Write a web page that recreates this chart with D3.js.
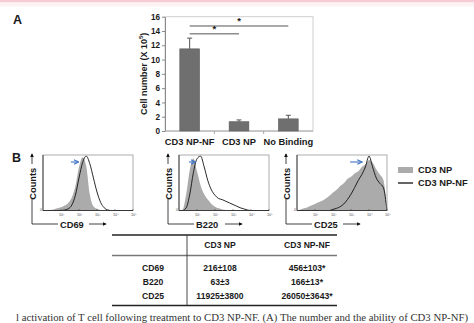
<!DOCTYPE html>
<html>
<head>
<meta charset="utf-8">
<script src="https://cdn.jsdelivr.net/npm/d3@7"></script>
<style>
  body { margin: 0; background: #fff; }
  svg { display: block; font-family: "Liberation Sans", Arial, sans-serif; }
</style>
</head>
<body>
<div id="fig"></div>
<script>
// panel A - bar chart
const categories = ["CD3 NP-NF", "CD3 NP", "No Binding"]
const cellNumber = [11.5, 1.3, 1.7]
const cellError  = [1.5, 0.25, 0.5]
const barTicks   = [0, 2, 4, 6, 8, 10, 12, 14, 16]
// significance brackets: from category, to category, height (y units)
const sigFrom  = ["CD3 NP-NF", "CD3 NP-NF"]
const sigTo    = ["No Binding", "CD3 NP"]
const sigLevel = [14.7, 13.6]

// panel B - histograms (x in log decades)
const histX    = [0, 0.2, 0.4, 0.6, 0.8, 1.0, 1.2, 1.4, 1.6, 1.8, 2.0, 2.2, 2.4, 2.6, 2.8, 3.0, 3.2, 3.4, 3.6, 3.8, 4.0, 4.2, 4.4, 4.6, 4.8, 5.0]
const cd69NP   = [0, 0, 1, 2, 4, 6, 9, 14, 24, 45, 80, 98, 82, 30, 8, 3, 1, 0, 0, 0, 0, 0, 0, 0, 0, 0]
const cd69NF   = [0, 0, 0, 0, 0, 0, 1, 3, 10, 28, 60, 88, 100, 86, 60, 34, 15, 5, 1, 0, 0, 0, 0, 0, 0, 0]
const b220NP   = [0, 2, 30, 75, 96, 72, 46, 30, 20, 12, 7, 4, 2, 1, 0, 0, 0, 0, 0, 0, 0, 0, 0, 0, 0, 0]
const b220NF   = [0, 0, 5, 30, 70, 95, 100, 80, 55, 38, 28, 22, 20, 17, 14, 11, 8, 5, 3, 1, 0, 0, 0, 0, 0, 0]
const cd25NP   = [0, 2, 4, 6, 9, 12, 15, 18, 22, 27, 33, 38, 45, 50, 58, 62, 68, 72, 80, 85, 93, 88, 76, 66, 56, 0]
const cd25NF   = [0, 0, 0, 0, 0, 0, 0, 0, 0, 0, 2, 4, 7, 12, 20, 30, 42, 55, 66, 80, 100, 80, 60, 50, 42, 0]
const histLabels = ["CD69", "B220", "CD25"]
const histTicks  = ["10¹", "10²", "10³", "10⁴", "10⁵"]
const arrowPeak  = [[1.55, 1.95], [0.55, 0.9], [2.95, 3.6]]   // blue shift arrows (x from, to)
const legendKeys = ["CD3 NP", "CD3 NP-NF"]

// table
const tableRows = ["CD69", "B220", "CD25"]
const tableCols = ["CD3 NP", "CD3 NP-NF"]
const valuesNP  = ["216±108", "63±3", "11925±3800"]
const valuesNF  = ["456±103*", "166±13*", "26050±3643*"]

const width = 474, height = 323

const svg = d3.select("#fig")
    .append("svg")
    .attr("width", width)
    .attr("height", height)

svg.append("defs").html(`
  <marker id="ah" viewBox="0 0 6 6" refX="5" refY="3" markerWidth="5" markerHeight="5" orient="auto">
    <path d="M0,0 L6,3 L0,6 z" fill="#111"/></marker>
  <marker id="ahb" viewBox="0 0 6 6" refX="5" refY="3" markerWidth="5" markerHeight="5" orient="auto">
    <path d="M0,0.5 L5.5,3 L0,5.5" fill="none" stroke="#3f74c4" stroke-width="1.2"/></marker>`)

// pink strip on top
svg.append("rect").attr("x", 0).attr("y", 0).attr("width", width).attr("height", 2.5).attr("fill", "#f6cbd3")
svg.append("rect").attr("x", 0).attr("y", 2.5).attr("width", width).attr("height", 4).attr("fill", "#fdf3f5")

const bold = (sel, size) => sel.attr("font-size", size).attr("font-weight", "bold").attr("fill", "#1a1a1a")
    .attr("font-family", "Liberation Sans, Arial, sans-serif")

// ---------------- panel A ----------------
svg.append("text").attr("x", 13).attr("y", 24).call(bold, 12.5).text("A")

const ax = { left: 165, right: 313, top: 16.7, bottom: 131 }

const x = d3.scaleBand()
    .domain(categories)
    .range([ax.left, ax.right])
    .paddingInner(0.6)
    .paddingOuter(0.3)

const y = d3.scaleLinear()
    .domain([0, 16])
    .range([ax.bottom, ax.top])

// frame
svg.append("rect")
    .attr("x", ax.left).attr("y", ax.top)
    .attr("width", ax.right - ax.left).attr("height", ax.bottom - ax.top)
    .attr("fill", "none").attr("stroke", "#cfcfcf").attr("stroke-width", 1)

const yAxis = svg.append("g")
    .attr("transform", `translate(${ax.left},0)`)
    .call(d3.axisLeft(y).tickValues(barTicks).tickSize(3).tickSizeOuter(0))
yAxis.select(".domain").attr("stroke", "#8a8a8a")
yAxis.selectAll(".tick line").attr("stroke", "#8a8a8a")
yAxis.selectAll("text").call(bold, 8.2).attr("x", -5)

// bottom axis with ticks between categories
svg.append("line")
    .attr("x1", ax.left).attr("x2", ax.right).attr("y1", ax.bottom).attr("y2", ax.bottom)
    .attr("stroke", "#a8a8a8")
svg.append("g")
    .selectAll("line")
    .data(categories.slice(1))
    .join("line")
    .attr("x1", d => x(d) - x.step() * x.paddingInner() / 2)
    .attr("x2", d => x(d) - x.step() * x.paddingInner() / 2)
    .attr("y1", ax.bottom).attr("y2", ax.bottom + 3)
    .attr("stroke", "#a8a8a8")

svg.append("g")
    .selectAll("text")
    .data(categories)
    .join("text")
    .attr("x", d => x(d) + x.bandwidth() / 2)
    .attr("y", 145)
    .attr("text-anchor", "middle")
    .call(bold, 9.3)
    .text(d => d)

// y title
svg.append("text")
    .attr("transform", `translate(146.5,${(ax.top + ax.bottom) / 2}) rotate(-90)`)
    .attr("text-anchor", "middle")
    .call(bold, 9)
    .html('Cell number (X 10<tspan dy="-3.5" font-size="6">5</tspan><tspan dy="3.5">)</tspan>')

// bars
svg.append("g")
    .selectAll("rect")
    .data(categories)
    .join("rect")
    .attr("x", d => x(d))
    .attr("y", (d, i) => y(cellNumber[i]))
    .attr("width", x.bandwidth())
    .attr("height", (d, i) => y(0) - y(cellNumber[i]))
    .attr("fill", "#6f6f6f")
    .attr("stroke", "#5a5a5a").attr("stroke-width", 0.6)

// error bars (upper only)
const err = svg.append("g").attr("stroke", "#555").attr("stroke-width", 1)
err.selectAll(".ev")
    .data(categories)
    .join("line")
    .attr("class", "ev")
    .attr("x1", d => x(d) + x.bandwidth() / 2)
    .attr("x2", d => x(d) + x.bandwidth() / 2)
    .attr("y1", (d, i) => y(cellNumber[i]))
    .attr("y2", (d, i) => y(cellNumber[i] + cellError[i]))
err.selectAll(".ec")
    .data(categories)
    .join("line")
    .attr("class", "ec")
    .attr("x1", d => x(d) + x.bandwidth() / 2 - 2.5)
    .attr("x2", d => x(d) + x.bandwidth() / 2 + 2.5)
    .attr("y1", (d, i) => y(cellNumber[i] + cellError[i]))
    .attr("y2", (d, i) => y(cellNumber[i] + cellError[i]))

// significance lines
const sig = svg.append("g")
sig.selectAll("line")
    .data(sigLevel)
    .join("line")
    .attr("x1", (d, i) => x(sigFrom[i]) + x.bandwidth() / 2)
    .attr("x2", (d, i) => x(sigTo[i]) + x.bandwidth() / 2)
    .attr("y1", d => y(d)).attr("y2", d => y(d))
    .attr("stroke", "#555").attr("stroke-width", 1)
sig.selectAll("text")
    .data(sigLevel)
    .join("text")
    .attr("x", (d, i) => (x(sigFrom[i]) + x(sigTo[i]) + x.bandwidth()) / 2)
    .attr("y", d => y(d) - 1.5)
    .attr("text-anchor", "middle")
    .call(bold, 9.5)
    .text("*")

// ---------------- panel B ----------------
svg.append("text").attr("x", 12).attr("y", 162).call(bold, 12.5).text("B")

const histTop = 155, histBottom = 210.5, histW = 90
const histLeft = [43, 179, 297]
const histNP = [cd69NP, b220NP, cd25NP]
const histNF = [cd69NF, b220NF, cd25NF]

histLabels.forEach((label, k) => {
    const L = histLeft[k]
    const hx = d3.scaleLinear().domain([0, 5]).range([L, L + histW])
    const hy = d3.scaleLinear().domain([0, 102]).range([histBottom, histTop])
    const g = svg.append("g")

    const pts = (arr) => histX.map((v, i) => [v, arr[i]])

    g.append("path")
        .datum(pts(histNP[k]))
        .attr("d", d3.area().x(d => hx(d[0])).y0(hy(0)).y1(d => hy(d[1])).curve(d3.curveMonotoneX))
        .attr("fill", "#ababab")

    g.append("path")
        .datum(pts(histNF[k]))
        .attr("d", d3.line().x(d => hx(d[0])).y(d => hy(d[1])).curve(d3.curveMonotoneX))
        .attr("fill", "none").attr("stroke", "#111").attr("stroke-width", 0.9)

    // box
    g.append("rect")
        .attr("x", L).attr("y", histTop).attr("width", histW).attr("height", histBottom - histTop)
        .attr("fill", "none").attr("stroke", "#9a9a9a").attr("stroke-width", 0.8)
    g.append("line").attr("x1", L).attr("x2", L).attr("y1", histTop).attr("y2", histBottom)
        .attr("stroke", "#222").attr("stroke-width", 0.8)
    g.append("line").attr("x1", L).attr("x2", L + histW).attr("y1", histBottom).attr("y2", histBottom)
        .attr("stroke", "#222").attr("stroke-width", 0.8)

    // tiny ticks
    g.selectAll(".xt")
        .data(histTicks)
        .join("text")
        .attr("class", "xt")
        .attr("x", (d, i) => hx(i + 1) - 2)
        .attr("y", histBottom + 5)
        .attr("font-size", 3.8).attr("fill", "#555")
        .text(d => d)
    g.selectAll(".xm")
        .data(histTicks)
        .join("line")
        .attr("class", "xm")
        .attr("x1", (d, i) => hx(i + 1)).attr("x2", (d, i) => hx(i + 1))
        .attr("y1", histBottom).attr("y2", histBottom - 1.5)
        .attr("stroke", "#333").attr("stroke-width", 0.5)
    g.append("text").attr("x", L - 3).attr("y", histBottom).attr("font-size", 3.8).attr("fill", "#555").text("0")

    // blue arrow
    g.append("line")
        .attr("x1", hx(arrowPeak[k][0])).attr("x2", hx(arrowPeak[k][1]))
        .attr("y1", histTop + 7).attr("y2", histTop + 7)
        .attr("stroke", "#3f74c4").attr("stroke-width", 1.1)
        .attr("marker-end", "url(#ahb)")

    // Counts axis label with arrow
    const cx = L - 11
    g.append("text")
        .attr("transform", `translate(${cx + 3.5},${(histTop + histBottom) / 2 + 1}) rotate(-90)`)
        .attr("text-anchor", "middle")
        .call(bold, 9.3)
        .text("Counts")
    g.append("line").attr("x1", cx).attr("x2", cx).attr("y1", 164).attr("y2", 154)
        .attr("stroke", "#111").attr("stroke-width", 0.8).attr("marker-end", "url(#ah)")
    g.append("path")
        .attr("d", `M${cx},199 V224 H${L + 15}`)
        .attr("fill", "none").attr("stroke", "#111").attr("stroke-width", 0.8)

    // x label with arrow
    g.append("text")
        .attr("x", L + 17).attr("y", 227.5)
        .call(bold, 9.3)
        .text(label)
    g.append("line").attr("x1", L + 46).attr("x2", L + 63).attr("y1", 224).attr("y2", 224)
        .attr("stroke", "#111").attr("stroke-width", 0.8).attr("marker-end", "url(#ah)")
})

// legend
const leg = svg.append("g").attr("transform", "translate(398,170)")
leg.append("rect").attr("x", 0).attr("y", -3).attr("width", 15).attr("height", 6).attr("fill", "#ababab")
leg.append("line").attr("x1", 0).attr("x2", 15).attr("y1", 13).attr("y2", 13).attr("stroke", "#111").attr("stroke-width", 1.3)
leg.selectAll("text")
    .data(legendKeys)
    .join("text")
    .attr("x", 20)
    .attr("y", (d, i) => i * 13 + 3.3)
    .call(bold, 9.3)
    .text(d => d)

// ---------------- table ----------------
const tb = { left: 112, right: 337, top: 235, bottom: 305.5, split: 187 }
const colX = d3.scaleOrdinal().domain(["", ...tableCols]).range([153, 220, 307])
const rowY = d3.scalePoint().domain(tableRows).range([268, 295.5])

svg.append("line").attr("x1", tb.left).attr("x2", tb.right).attr("y1", tb.top).attr("y2", tb.top)
    .attr("stroke", "#222").attr("stroke-width", 1.5)
svg.append("line").attr("x1", tb.left).attr("x2", tb.right).attr("y1", 255.5).attr("y2", 255.5)
    .attr("stroke", "#777").attr("stroke-width", 1.5)
svg.append("line").attr("x1", tb.left).attr("x2", tb.right).attr("y1", tb.bottom).attr("y2", tb.bottom)
    .attr("stroke", "#222").attr("stroke-width", 1.5)
svg.append("line").attr("x1", tb.split).attr("x2", tb.split).attr("y1", tb.top).attr("y2", tb.bottom)
    .attr("stroke", "#333").attr("stroke-width", 0.9)

const cell = (sel) => sel.attr("text-anchor", "middle").call(bold, 8.6)

svg.append("g").selectAll("text").data(tableCols).join("text")
    .attr("x", d => colX(d)).attr("y", 248).call(cell).text(d => d)
svg.append("g").selectAll("text").data(tableRows).join("text")
    .attr("x", colX("")).attr("y", d => rowY(d) + 3).call(cell).text(d => d)
svg.append("g").selectAll("text").data(valuesNP).join("text")
    .attr("x", colX(tableCols[0])).attr("y", (d, i) => rowY(tableRows[i]) + 3).call(cell).text(d => d)
svg.append("g").selectAll("text").data(valuesNF).join("text")
    .attr("x", colX(tableCols[1])).attr("y", (d, i) => rowY(tableRows[i]) + 3).call(cell).text(d => d)

// caption line at the page bottom
svg.append("text")
    .attr("x", 16).attr("y", 320.5)
    .attr("font-family", "Liberation Serif, DejaVu Serif, serif")
    .attr("font-size", 9.5).attr("fill", "#333")
    .attr("textLength", 452).attr("lengthAdjust", "spacingAndGlyphs")
    .text("l  activation of T cell following treatment to CD3 NP-NF. (A) The number and the ability of CD3 NP-NF)")
</script>
</body>
</html>
